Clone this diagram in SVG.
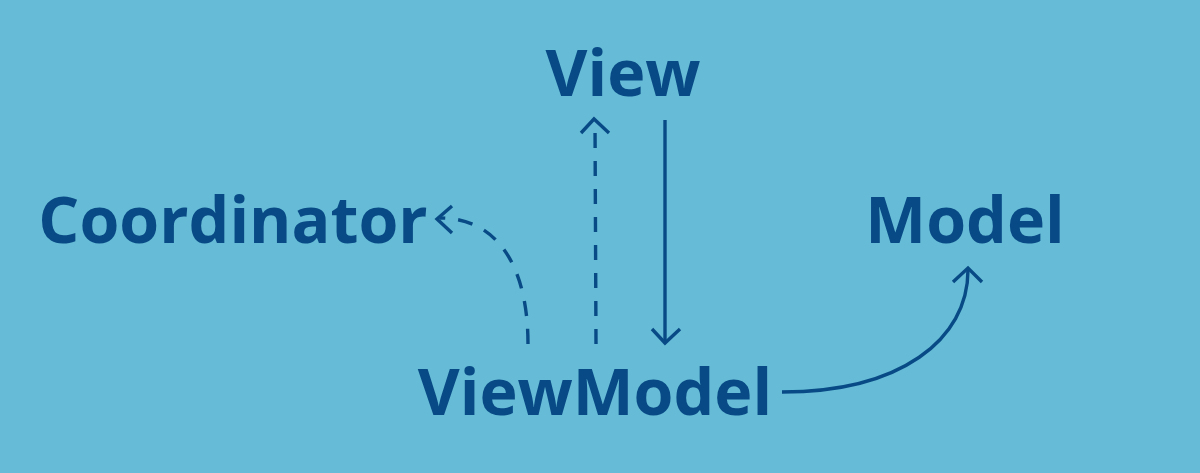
<svg xmlns="http://www.w3.org/2000/svg" width="1200" height="473" viewBox="0 0 1200 473">
<style>
.lbl{font-family:"Open Sans","Noto Sans","DejaVu Sans",sans-serif;font-weight:700;font-size:64.5px;fill:#084A86}
.ln{fill:none;stroke:#084A86;stroke-width:3.4}
.dash{stroke-dasharray:15 13}
</style>
<rect width="1200" height="473" fill="#66BCD6"/>
<g id="view"><text class="lbl" x="623" y="96" text-anchor="middle">View</text></g>
<g id="coordinator"><text class="lbl" x="233" y="243" text-anchor="middle">Coordinator</text></g>
<g id="model"><text class="lbl" x="965" y="243" text-anchor="middle">Model</text></g>
<g id="viewmodel"><text class="lbl" x="595" y="415" text-anchor="middle">ViewModel</text></g>
<g id="connectors">
<path class="ln dash" d="M596,344 L595,121"/>
<path class="ln" d="M581,133 L594,119 L609,133"/>
<path class="ln" d="M665,120 L665,342"/>
<path class="ln" d="M652,329 L665,343 L680,329"/>
<path class="ln dash" d="M528,344 C528,270 500,218 440,218"/>
<path class="ln" d="M452,206 L437,219 L452,233"/>
<path class="ln" d="M782,392 C900,392 968,340 968,270"/>
<path class="ln" d="M953,282 L968,268 L982,282"/>
</g>
</svg>
